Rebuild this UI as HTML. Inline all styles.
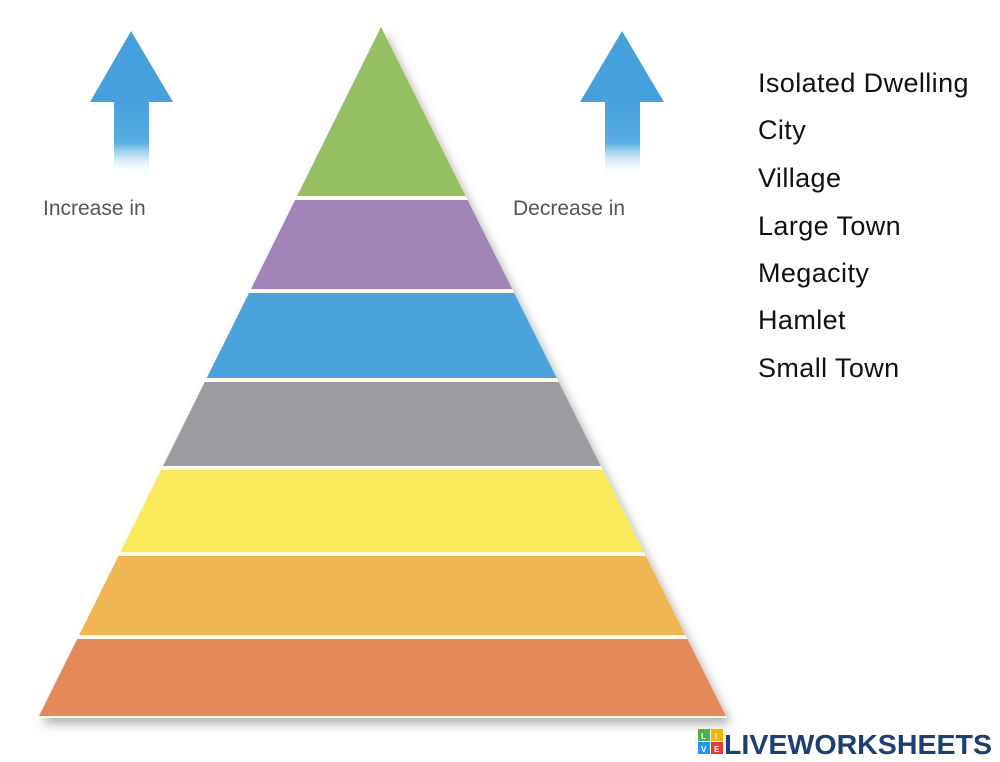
<!DOCTYPE html>
<html><head><meta charset="utf-8"><style>
body{margin:0;background:#fff;width:1000px;height:762px;overflow:hidden;position:relative;font-family:"Liberation Sans",sans-serif}
.l{position:absolute;left:758px;font-size:27px;letter-spacing:0.4px;color:#111}
</style></head><body>
<svg width="1000" height="762" style="position:absolute;left:0;top:0">
<defs>
<clipPath id="c"><polygon points="381,27 38,718 727,718"/></clipPath>
<linearGradient id="g" x1="0" y1="0" x2="0" y2="1">
<stop offset="0" stop-color="#45a0dc"/><stop offset="0.55" stop-color="#58aee2"/><stop offset="1" stop-color="#fff" stop-opacity="0"/></linearGradient>
<filter id="s"><feDropShadow dx="4" dy="6" stdDeviation="5" flood-color="#000" flood-opacity="0.3"/></filter>
</defs>
<polygon points="381,27 38,718 727,718" fill="#fffbea" filter="url(#s)"/>
<g clip-path="url(#c)">
<rect x="0" y="27" width="1000" height="169" fill="#94c063"/>
<rect x="0" y="200" width="1000" height="89" fill="#a283b8"/>
<rect x="0" y="293" width="1000" height="85" fill="#4ba3db"/>
<rect x="0" y="382" width="1000" height="84" fill="#9a9c9f"/>
<rect x="0" y="470" width="1000" height="82" fill="#fbe95c"/>
<rect x="0" y="556" width="1000" height="79" fill="#f0b653"/>
<rect x="0" y="639" width="1000" height="77" fill="#e5895a"/>
</g>
<g>
<polygon points="131,31 173,102 90,102" fill="#45a0dc"/>
<rect x="114" y="101" width="35" height="76" fill="url(#g)"/>
<polygon points="622,31 664,102 580,102" fill="#45a0dc"/>
<rect x="605" y="101" width="35" height="76" fill="url(#g)"/>
</g>
<text x="43" y="215" font-size="21" fill="#555" font-family="Liberation Sans">Increase in</text>
<text x="513" y="215" font-size="21" fill="#555" font-family="Liberation Sans">Decrease in</text>
<g font-family="Liberation Sans" font-weight="bold" font-size="8" fill="#fff">
<rect x="698" y="729" width="12" height="12" fill="#4caf50"/><rect x="711" y="729" width="12" height="12" fill="#f4b400"/>
<rect x="698" y="742" width="12" height="12" fill="#2196f3"/><rect x="711" y="742" width="12" height="12" fill="#e53935"/>
<text x="701" y="739">L</text><text x="715" y="739">I</text><text x="701" y="752">V</text><text x="714" y="752">E</text>
</g>
<text x="724" y="754" font-family="Liberation Sans" font-weight="bold" font-size="28" fill="#1d3f73" textLength="268" lengthAdjust="spacingAndGlyphs">LIVEWORKSHEETS</text>
</svg>
<div class="l" style="top:68px">Isolated Dwelling</div>
<div class="l" style="top:115px">City</div>
<div class="l" style="top:163px">Village</div>
<div class="l" style="top:211px">Large Town</div>
<div class="l" style="top:258px">Megacity</div>
<div class="l" style="top:305px">Hamlet</div>
<div class="l" style="top:353px">Small Town</div>
</body></html>
